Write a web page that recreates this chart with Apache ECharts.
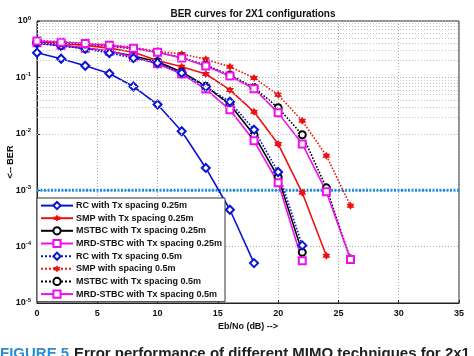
<!DOCTYPE html>
<html><head><meta charset="utf-8">
<script src="https://cdn.jsdelivr.net/npm/echarts@6/dist/echarts.min.js"></script>
<style>html,body{margin:0;padding:0;background:#fff;}#c{width:474px;height:356px;}</style>
</head><body><div id="c"></div>
<script>
// Eb/No values (dB)
const ebno = [0, 2, 4, 6, 8, 10, 12, 14, 16, 18, 20, 22, 24, 26];
const xTicks = [0, 5, 10, 15, 20, 25, 30, 35];
// BER values
const rc025    = [0.273, 0.214, 0.161, 0.117, 0.069, 0.033, 0.0111, 0.00248, 0.00045, 0.000051];
const smp025   = [0.43, 0.40, 0.37, 0.33, 0.28, 0.20, 0.155, 0.115, 0.060, 0.0245, 0.0066, 0.0009, 0.000069];
const mstbc025 = [0.41, 0.37, 0.33, 0.29, 0.24, 0.19, 0.125, 0.070, 0.033, 0.0095, 0.0017, 0.000079];
const mrd025   = [0.41, 0.37, 0.33, 0.29, 0.23, 0.175, 0.115, 0.062, 0.0266, 0.0075, 0.00135, 0.000056];
const rc05     = [0.40, 0.36, 0.32, 0.27, 0.22, 0.18, 0.12, 0.068, 0.037, 0.0118, 0.0021, 0.000105];
const smp05    = [0.45, 0.43, 0.40, 0.38, 0.34, 0.29, 0.26, 0.21, 0.154, 0.098, 0.049, 0.017, 0.0041, 0.00053];
const mstbc05  = [0.43, 0.41, 0.39, 0.36, 0.32, 0.28, 0.225, 0.165, 0.11, 0.066, 0.029, 0.0096, 0.0011, 0.00006];
const mrd05    = [0.44, 0.42, 0.40, 0.37, 0.33, 0.28, 0.22, 0.16, 0.106, 0.063, 0.0235, 0.0066, 0.00094, 0.000059];
const threshold = 0.001;
const names = ["RC with Tx spacing 0.25m", "SMP with Tx spacing 0.25m", "MSTBC with Tx spacing 0.25m",
  "MRD-STBC with Tx spacing 0.25m", "RC with Tx spacing 0.5m", "SMP with spacing 0.5m",
  "MSTBC with Tx spacing 0.5m", "MRD-STBC with Tx spacing 0.5m"];

const hexa = 'path://M0,-10 L2.9,-5 L8.66,-5 L5.8,0 L8.66,5 L2.9,5 L0,10 L-2.9,5 L-8.66,5 L-5.8,0 L-8.66,-5 L-2.9,-5 Z';
const BLUE = '#0a14d8', RED = '#ee1111', BLACK = '#000000', MAG = '#ee10ee';

function pairs(arr) { return arr.map((v, i) => [ebno[i], v]); }
function ser(name, arr, color, type, symbol, size) {
  return {
    name, type: 'line', data: pairs(arr), symbol, symbolSize: size,
    lineStyle: { color, width: 1.6, type },
    itemStyle: { color, borderWidth: 1.3 },
    emphasis: { disabled: true }, animation: false
  };
}
const minorVals = [];
for (let d = -5; d < 0; d++) for (let k = 2; k <= 9; k++) minorVals.push(k * Math.pow(10, d));

const chart = echarts.init(document.getElementById('c'), null, { renderer: 'canvas' });
const font = 'Liberation Sans, Arial, sans-serif';
chart.setOption({
  animation: false,
  backgroundColor: '#fff',
  title: { text: 'BER curves for 2X1 configurations', left: 248, textAlign: 'center', top: 4,
    textStyle: { fontFamily: font, fontSize: 10, fontWeight: 'bold', color: '#111' } },
  grid: { left: 37, right: 15, top: 21, bottom: 53, show: true, borderColor: '#222', borderWidth: 1,
    containLabel: false, outerBoundsMode: 'none' },
  xAxis: { type: 'value', min: 0, max: 35, interval: 5,
    name: 'Eb/No (dB) -->', nameLocation: 'middle', nameGap: 19, nameMoveOverlap: false,
    nameTextStyle: { fontFamily: font, fontSize: 9, fontWeight: 'bold', color: '#111' },
    axisLine: { lineStyle: { color: '#222' } },
    axisTick: { inside: true, length: 3, lineStyle: { color: '#222' } },
    axisLabel: { fontFamily: font, fontSize: 9, fontWeight: 'bold', color: '#111', margin: 6,
      formatter: v => xTicks.includes(v) ? String(v) : '' },
    splitLine: { show: true, lineStyle: { color: '#aaa', type: [1, 2], width: 1 } } },
  yAxis: { type: 'log', logBase: 10, min: 1e-5, max: 1,
    name: '<-- BER', nameLocation: 'middle', nameGap: 22, nameMoveOverlap: false,
    nameTextStyle: { fontFamily: font, fontSize: 9, fontWeight: 'bold', color: '#111' },
    axisLine: { lineStyle: { color: '#222' } },
    axisTick: { inside: true, length: 3, lineStyle: { color: '#222' } },
    axisLabel: { margin: 6, formatter: v => '{a|10}{b|' + Math.round(Math.log10(v)) + '}',
      rich: { a: { fontFamily: font, fontSize: 9, fontWeight: 'bold', color: '#111' },
              b: { fontFamily: font, fontSize: 6, fontWeight: 'bold', color: '#111', verticalAlign: 'top', padding: [0, 0, 6, 0] } } },
    splitLine: { show: true, lineStyle: { color: '#aaa', type: [1, 2], width: 1 } } },
  legend: { data: names, orient: 'vertical', left: 37, top: 198, itemWidth: 32, itemHeight: 9, itemGap: 3.5,
    padding: [3, 3, 3, 3], backgroundColor: '#fff', borderColor: '#333', borderWidth: 1,
    textStyle: { fontFamily: font, fontSize: 9, fontWeight: 'bold', color: '#111', padding: [0, 0, 0, -2] } },
  graphic: [
    { type: 'text', left: 0, top: 346, style: { text: 'FIGURE 5', fontFamily: font, fontSize: 15, fontWeight: 'bold', fill: '#2a8fd0' } },
    { type: 'text', left: 74, top: 346, style: { text: 'Error performance of different MIMO techniques for 2x1 configurations', fontFamily: font, fontSize: 15, fontWeight: 'bold', fill: '#222' } }
  ],
  series: [
    { name: 'minor', type: 'line', data: [], silent: true, animation: false,
      markLine: { silent: true, symbol: 'none', label: { show: false },
        lineStyle: { color: '#c4c4c4', type: [1, 2], width: 1 },
        data: minorVals.map(v => ({ yAxis: v })) } },
    ser(names[0], rc025, BLUE, 'solid', 'emptyDiamond', 8),
    ser(names[1], smp025, RED, 'solid', hexa, 8),
    ser(names[2], mstbc025, BLACK, 'solid', 'emptyCircle', 7),
    ser(names[3], mrd025, MAG, 'solid', 'emptyRect', 7),
    ser(names[4], rc05, BLUE, 'dotted', 'emptyDiamond', 8),
    ser(names[5], smp05, RED, 'dotted', hexa, 8),
    ser(names[6], mstbc05, BLACK, 'dotted', 'emptyCircle', 7),
    ser(names[7], mrd05, MAG, 'solid', 'emptyRect', 7),
    { name: 'threshold', type: 'line', data: [[0, threshold], [35, threshold]], symbol: 'none', silent: true,
      lineStyle: { color: '#1e8fe0', width: 3, type: [2, 1.5] }, z: 1, animation: false }
  ]
});
</script></body></html>
